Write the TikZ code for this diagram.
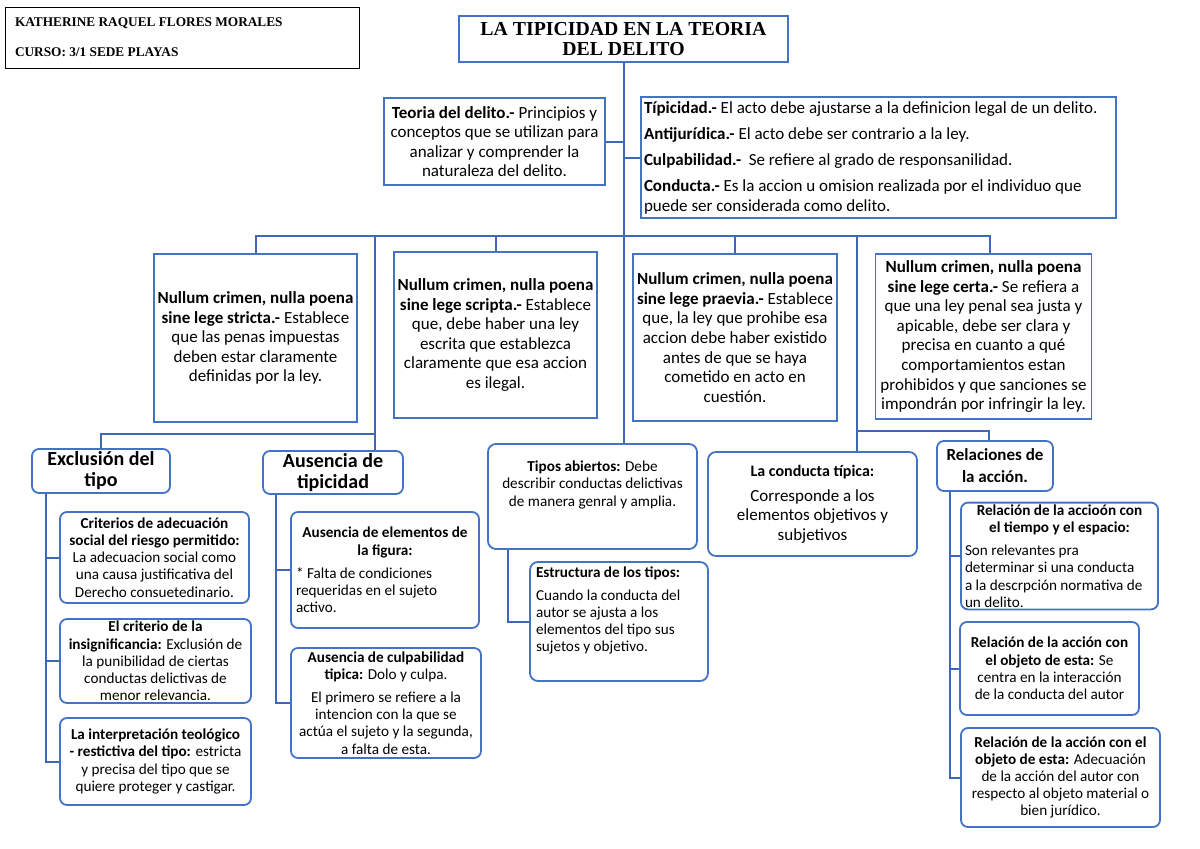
\documentclass[tikz,border=0pt]{standalone}
\usepackage{fontspec}
\setmainfont{Carlito}
\newfontfamily\tnr{Liberation Serif}
\definecolor{bc}{RGB}{68,114,196}
\definecolor{lc}{RGB}{62,104,182}
\tikzset{
 conn/.style={draw=lc, line width=2pt},
 sq/.style={draw=bc, line width=1.8pt, inner xsep=3pt, inner ysep=2pt, align=center},
 rnd/.style={sq, rounded corners=7pt},
 tb/.style={draw=bc, line width=1.8pt, rounded corners=8pt, inner ysep=0pt},
 topf/.style={font=\fontsize{17}{19.6}\selectfont},
 subf/.style={font=\fontsize{15.2}{17.2}\selectfont},
 headf/.style={font=\bfseries\fontsize{20}{21}\selectfont},
}
\begin{document}
\begin{tikzpicture}[x=1pt,y=-1pt]
\fill[white] (0,0) rectangle (1200,849);
\useasboundingbox (0,0) rectangle (1200,849);

% header
\node[draw=black, line width=1pt, minimum width=354pt, minimum height=61pt, text width=334pt, inner xsep=10pt, align=flush left, font=\tnr\bfseries\fontsize{13.3}{30}\selectfont] (hdr) at (182,37.5) {KATHERINE RAQUEL FLORES MORALES\\CURSO: 3/1 SEDE PLAYAS};

% title
\node[sq, line width=2pt, minimum width=329pt, minimum height=46pt, font=\tnr\bfseries\fontsize{19.8}{20}\selectfont] (title) at (623.5,39) {LA TIPICIDAD EN LA TEORIA\\DEL DELITO};

% top boxes
\node[sq, topf, minimum width=221pt, minimum height=87pt] (teoria) at (494.5,141.5)
 {\textbf{Teoria del delito.-} Principios y\\conceptos que se utilizan para\\analizar y comprender la\\naturaleza del delito.};
\node[sq, minimum width=475pt, minimum height=121pt, text width=469pt, align=flush left, font=\fontsize{17}{20}\selectfont] (tipi) at (878.5,157.5)
 {\textbf{Típicidad.-} El acto debe ajustarse a la definicion legal de un delito.\\[6pt]
  \textbf{Antijurídica.-} El acto debe ser contrario a la ley.\\[6pt]
  \textbf{Culpabilidad.-}\ \ Se refiere al grado de responsanilidad.\\[6pt]
  \textbf{Conducta.-} Es la accion u omision realizada por el individuo que\\puede ser considerada como delito.};

% nullum boxes
\node[sq, topf, line width=1.5pt, minimum width=203pt, minimum height=168pt] (stricta) at (255.5,338)
 {\textbf{Nullum crimen, nulla poena}\\\textbf{sine lege stricta.-} Establece\\que las penas impuestas\\deben estar claramente\\definidas por la ley.};
\node[sq, topf, line width=1.5pt, minimum width=203pt, minimum height=166pt] (scripta) at (495.5,335)
 {\textbf{Nullum crimen, nulla poena}\\\textbf{sine lege scripta.-} Establece\\que, debe haber una ley\\escrita que establezca\\claramente que esa accion\\es ilegal.};
\node[sq, topf, line width=1.5pt, minimum width=204pt, minimum height=167pt] (praevia) at (735,337.5)
 {\textbf{Nullum crimen, nulla poena}\\\textbf{sine lege praevia.-} Establece\\que, la ley que prohibe esa\\accion debe haber existido\\antes de que se haya\\cometido en acto en\\cuestión.};
\node[sq, topf, line width=1.5pt, minimum width=216pt, minimum height=165pt] (certa) at (983.5,336.5)
 {\textbf{Nullum crimen, nulla poena}\\\textbf{sine lege certa.-} Se refiera a\\que una ley penal sea justa y\\apicable, debe ser clara y\\precisa en cuanto a qué\\comportamientos estan\\prohibidos y que sanciones se\\impondrán por infringir la ley.};

% Exclusion del tipo
\node[rnd, headf, minimum width=138pt, minimum height=44pt] (excl) at (101,471) {Exclusión del\\tipo};
\node[rnd, subf, minimum width=189pt, minimum height=91pt] (crit) at (154.5,557.5)
 {\textbf{Criterios de adecuación}\\\textbf{social del riesgo permitido:}\\La adecuacion social como\\una causa justificativa del\\Derecho consuetedinario.};
\node[rnd, subf, minimum width=191pt, minimum height=84pt] (insig) at (155.5,661)
 {\textbf{El criterio de la}\\\textbf{insignificancia:} Exclusión de\\la punibilidad de ciertas\\conductas delictivas de\\menor relevancia.};
\node[rnd, subf, minimum width=191pt, minimum height=87pt] (interp) at (155.5,761.5)
 {\textbf{La interpretación teológico}\\\textbf{- restictiva del tipo:} estricta\\y precisa del tipo que se\\quiere proteger y castigar.};

% Ausencia de tipicidad
\node[rnd, headf, minimum width=140pt, minimum height=43pt] (aus) at (333,472.5) {Ausencia de\\tipicidad};
\node[rnd, subf, minimum width=188pt, minimum height=116pt, text width=178pt, inner xsep=5pt, align=flush left] (elem) at (385,570)
 {\centering\textbf{Ausencia de elementos de\\la figura:}\par\vspace{6pt}\raggedright * Falta de condiciones\\requeridas en el sujeto\\activo.};
\node[rnd, subf, minimum width=190pt, minimum height=110pt] (culp) at (386,703)
 {\textbf{Ausencia de culpabilidad}\\\textbf{tipica:} Dolo y culpa.\\[5.5pt]El primero se refiere a la\\intencion con la que se\\actúa el sujeto y la segunda,\\a falta de esta.};

% Tipos
\node[tb, subf, inner xsep=4pt] (tipos) at (592.5,496.5)
 {\parbox[c][105pt][t]{201pt}{\vspace*{17pt}\centering\textbf{Tipos abiertos:} Debe\\describir conductas delictivas\\de manera genral y amplia.}};
\node[tb, subf, inner xsep=6pt] (estr) at (619,621.5)
 {\parbox[c][119pt][t]{166pt}{\vspace*{4.5pt}\raggedright\textbf{Estructura de los tipos:}\\[6pt]Cuando la conducta del\\autor se ajusta a los\\elementos del tipo sus\\sujetos y objetivo.}};
\node[rnd, rounded corners=8pt, minimum width=209pt, minimum height=104pt, text width=199pt, align=flush center, font=\fontsize{17}{19.5}\selectfont] (cond) at (812.5,504)
 {{\fontsize{16}{17}\selectfont\textbf{La conducta típica:}\par}\vspace{5.5pt}Corresponde a los\\elementos objetivos y\\subjetivos};

% Relaciones
\node[rnd, font=\bfseries\fontsize{17}{22}\selectfont, minimum width=116pt, minimum height=50pt] (relac) at (995,466) {Relaciones de\\la acción.};
\node[rnd, subf, minimum width=197pt, minimum height=106pt, text width=189pt, inner xsep=4pt, align=flush left] (rtiem) at (1059.5,556)
 {\centering\textbf{Relación de la accioón con\\el tiempo y el espacio:}\par\vspace{6pt}\raggedright Son relevantes pra\\determinar si una conducta\\a la descrpción normativa de\\un delito.};
\node[rnd, subf, minimum width=179pt, minimum height=93pt] (robj) at (1049.5,668.5)
 {\textbf{Relación de la acción con}\\\textbf{el objeto de esta:} Se\\centra en la interacción\\de la conducta del autor};
\node[rnd, subf, minimum width=199pt, minimum height=99pt] (radec) at (1060.5,777.5)
 {\textbf{Relación de la acción con el}\\\textbf{objeto de esta:} Adecuación\\de la acción del autor con\\respecto al objeto material o\\bien jurídico.};

% connectors
\coordinate (bus) at (623.5,236);
\coordinate (lb) at (375,236);
\coordinate (lj) at (375,434);
\coordinate (rb) at (857,236);
\coordinate (rj) at (857,431);
\draw[conn] (title.south) -- (title.south |- tipos.north);
\draw[conn] (teoria.east) -- (teoria.east -| title.south);
\draw[conn] (tipi.west) -- (tipi.west -| title.south);
\draw[conn] (stricta.north) |- (bus);
\draw[conn] (bus) -| ([xshift=6.5pt]certa.north);
\draw[conn] (scripta.north) -- (scripta.north |- bus);
\draw[conn] (praevia.north) -- (praevia.north |- bus);
\draw[conn] (lb) -- (lb |- aus.north);
\draw[conn] (lj) -| (excl.north);
\draw[conn] (rb) -- (rb |- cond.north);
\draw[conn] (rj) -| ([xshift=-6pt]relac.north);

\coordinate (exv) at ([xshift=15pt]excl.south west);
\draw[conn] (exv) |- (interp.west);
\draw[conn] (crit.west) -- (crit.west -| exv);
\draw[conn] (insig.west) -- (insig.west -| exv);
\coordinate (auv) at ([xshift=14pt]aus.south west);
\draw[conn] (auv) |- (culp.west);
\draw[conn] (elem.west) -- (elem.west -| auv);
\coordinate (tpv) at ([xshift=21pt]tipos.south west);
\draw[conn] (tpv) |- (estr.west);
\coordinate (rlv) at ([xshift=14pt]relac.south west);
\draw[conn] (rlv) |- (radec.west);
\draw[conn] (rtiem.west) -- (rtiem.west -| rlv);
\draw[conn] (robj.west) -- (robj.west -| rlv);
\end{tikzpicture}
\end{document}
